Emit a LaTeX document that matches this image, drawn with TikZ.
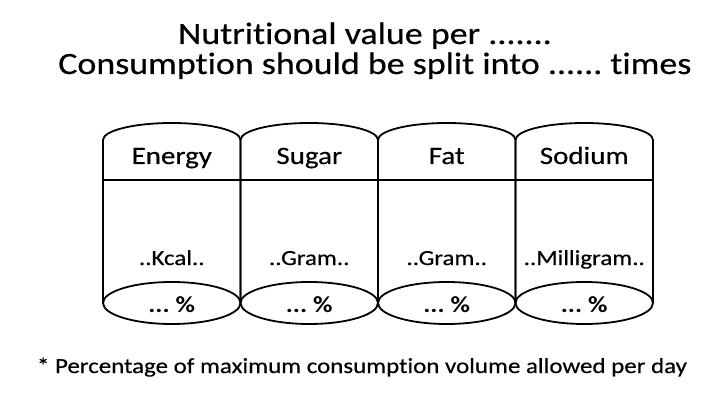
\documentclass[tikz,border=0pt]{standalone}
\usepackage{fontspec}
\setmainfont{Carlito}[FakeStretch=1.16, Ligatures=NoCommon, UprightFeatures={FakeBold=0.4}]
\usetikzlibrary{positioning}
\frenchspacing

\begin{document}
\begin{tikzpicture}[
  x=1pt, y=1pt,
  can/.style={line width=1.8pt, black},
  title/.style={font=\fontsize{31}{34}\selectfont, anchor=base, inner sep=0pt},
  head/.style={font=\fontsize{25}{30}\selectfont, anchor=base, inner sep=0pt},
  unit/.style={font=\fontsize{21.5}{26}\selectfont, anchor=base, inner sep=0pt},
  pct/.style={font=\fontsize{23}{28}\selectfont\bfseries, anchor=base, inner sep=0pt},
  note/.style={font=\fontsize{21.5}{26}\selectfont, anchor=base, inner sep=0pt}
]
  \useasboundingbox (0,0) rectangle (727,394);
  \node[title] (heading) at (365,350) {Nutritional value per .......};
  \node[title] (split) at (375,320) {Consumption should be split into ...... times};
  % the four cans
  \foreach \name/\headtext/\unittext [count=\i from 0] in
    {energy/Energy/..Kcal..,sugar/Sugar/..Gram..,fat/Fat/..Gram..,sodium/Sodium/..Milligram..}{
    \pgfmathsetmacro{\canx}{103+137.5*\i}
    \pgfmathsetmacro{\canmid}{\canx+68.75}
    \draw[can] (\canx,91) -- (\canx,254)
      arc[start angle=180, end angle=0, x radius=68.75, y radius=17]
      -- (\canx+137.5,91);
    \draw[can] (\canx,214) -- (\canx+137.5,214);
    \draw[can] (\canmid,91) ellipse[x radius=68.75, y radius=21];
    \node[head] (\name) at (\canmid,230) {\headtext};
    \node[unit] (\name-unit) at (\canmid,129) {\unittext};
    \node[pct] (\name-pct) at (\canmid,82) {... \%};
  }
  \node[note] (footnote) at (362,21)
    {* Percentage of maximum consumption volume allowed per day};
\end{tikzpicture}
\end{document}
